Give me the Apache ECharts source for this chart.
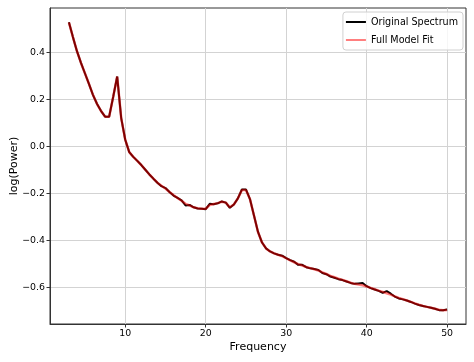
<!DOCTYPE html>
<html>
<head>
<meta charset="utf-8">
<script src="https://cdn.jsdelivr.net/npm/echarts@6/dist/echarts.min.js"></script>
<style>html,body{margin:0;padding:0;background:#fff}#c{width:474px;height:362px}</style>
</head>
<body>
<div id="c"></div>
<script>
const freqs = [3,3.5,4,4.5,5,5.5,6,6.5,7,7.5,8,8.5,9,9.5,10,10.5,11,11.5,12,12.5,13,13.5,14,14.5,15,15.5,16,16.5,17,17.5,18,18.5,19,19.5,20,20.5,21,21.5,22,22.5,23,23.5,24,24.5,25,25.5,26,26.5,27,27.5,28,28.5,29,29.5,30,30.5,31,31.5,32,32.5,33,33.5,34,34.5,35,35.5,36,36.5,37,37.5,38,38.5,39,39.5,40,40.5,41,41.5,42,42.5,43,43.5,44,44.5,45,45.5,46,46.5,47,47.5,48,48.5,49,49.5,50];
const spectrum = [0.528,0.465,0.405,0.355,0.31,0.265,0.218,0.18,0.15,0.126,0.126,0.21,0.297,0.12,0.028,-0.025,-0.045,-0.062,-0.08,-0.1,-0.12,-0.138,-0.155,-0.17,-0.178,-0.195,-0.21,-0.22,-0.23,-0.252,-0.25,-0.26,-0.265,-0.266,-0.268,-0.245,-0.247,-0.243,-0.235,-0.24,-0.262,-0.248,-0.222,-0.184,-0.184,-0.225,-0.295,-0.365,-0.41,-0.435,-0.448,-0.456,-0.462,-0.466,-0.476,-0.485,-0.492,-0.505,-0.505,-0.515,-0.52,-0.523,-0.527,-0.54,-0.545,-0.555,-0.56,-0.566,-0.57,-0.576,-0.582,-0.586,-0.584,-0.582,-0.596,-0.604,-0.61,-0.616,-0.624,-0.617,-0.628,-0.64,-0.648,-0.652,-0.657,-0.663,-0.67,-0.676,-0.68,-0.684,-0.688,-0.692,-0.698,-0.698,-0.695];
const modelFit = [0.528,0.465,0.405,0.355,0.31,0.265,0.218,0.18,0.15,0.126,0.126,0.21,0.297,0.12,0.028,-0.025,-0.045,-0.062,-0.08,-0.1,-0.12,-0.138,-0.155,-0.168,-0.18,-0.195,-0.208,-0.22,-0.232,-0.245,-0.252,-0.26,-0.264,-0.266,-0.266,-0.25,-0.246,-0.242,-0.236,-0.24,-0.26,-0.248,-0.222,-0.186,-0.186,-0.225,-0.295,-0.365,-0.41,-0.435,-0.448,-0.456,-0.462,-0.468,-0.477,-0.486,-0.494,-0.502,-0.508,-0.514,-0.519,-0.524,-0.529,-0.537,-0.544,-0.552,-0.558,-0.564,-0.569,-0.575,-0.581,-0.586,-0.589,-0.592,-0.597,-0.603,-0.609,-0.615,-0.62,-0.626,-0.632,-0.639,-0.646,-0.651,-0.657,-0.663,-0.669,-0.675,-0.68,-0.684,-0.688,-0.692,-0.696,-0.698,-0.697];
const xTicks = [10,20,30,40,50];
const yTicks = [-0.6,-0.4,-0.2,0,0.2,0.4];
const seriesNames = ['Original Spectrum','Full Model Fit'];

const chart = echarts.init(document.getElementById('c'), null, {renderer:'canvas'});
const font = 'DejaVu Sans';
const fmtY = v => (v < 0 ? '\u2212' : '') + Math.abs(v).toFixed(1);
chart.setOption({
  animation:false,
  backgroundColor:'#fff',
  grid:{left:50,top:8,right:8,bottom:38,containLabel:false,outerBoundsMode:'none',show:true,borderColor:'#333',borderWidth:1,backgroundColor:'transparent'},
  legend:{
    data:seriesNames, orient:'vertical', right:11, top:12,
    itemWidth:20, itemHeight:2, icon:'rect', itemGap:8,
    textStyle:{fontFamily:font,fontSize:9.6,color:'#000'},
    borderColor:'#d0d0d0', borderWidth:1, borderRadius:3, padding:[5,5,5,3],
    backgroundColor:'rgba(255,255,255,0.8)'
  },
  xAxis:{
    type:'value', min:0.65, max:52.35,
    name:'Frequency', nameLocation:'middle', nameGap:18, nameMoveOverlap:false,
    nameTextStyle:{fontFamily:font,fontSize:11,color:'#000'},
    axisLine:{show:true,onZero:false,lineStyle:{color:'#333'}},
    axisTick:{show:true,length:3.5,customValues:xTicks,lineStyle:{color:'#333'}},
    axisLabel:{customValues:xTicks,fontFamily:font,fontSize:9.4,color:'#000',margin:5},
    splitLine:{show:true,lineStyle:{color:'#d3d3d3',width:1}}
  },
  yAxis:{
    type:'value', min:-0.757, max:0.589,
    name:'log(Power)', nameLocation:'middle', nameGap:30, nameRotate:90, nameMoveOverlap:false,
    nameTextStyle:{fontFamily:font,fontSize:11,color:'#000'},
    axisLine:{show:true,onZero:false,lineStyle:{color:'#333'}},
    axisTick:{show:true,length:3.5,customValues:yTicks,lineStyle:{color:'#333'}},
    axisLabel:{customValues:yTicks,formatter:fmtY,fontFamily:font,fontSize:9.4,color:'#000',margin:5},
    splitLine:{show:true,lineStyle:{color:'#d3d3d3',width:1}}
  },
  series:[
    {name:seriesNames[0],type:'line',showSymbol:false,symbol:'none',data:freqs.map((f,i)=>[f,spectrum[i]]),
     lineStyle:{color:'#000',width:2},itemStyle:{color:'#000'},z:2},
    {name:seriesNames[1],type:'line',showSymbol:false,symbol:'none',data:freqs.map((f,i)=>[f,modelFit[i]]),
     lineStyle:{color:'rgba(255,0,0,0.5)',width:2.5},itemStyle:{color:'rgba(255,0,0,0.5)'},z:3}
  ]
});
</script>
</body>
</html>
